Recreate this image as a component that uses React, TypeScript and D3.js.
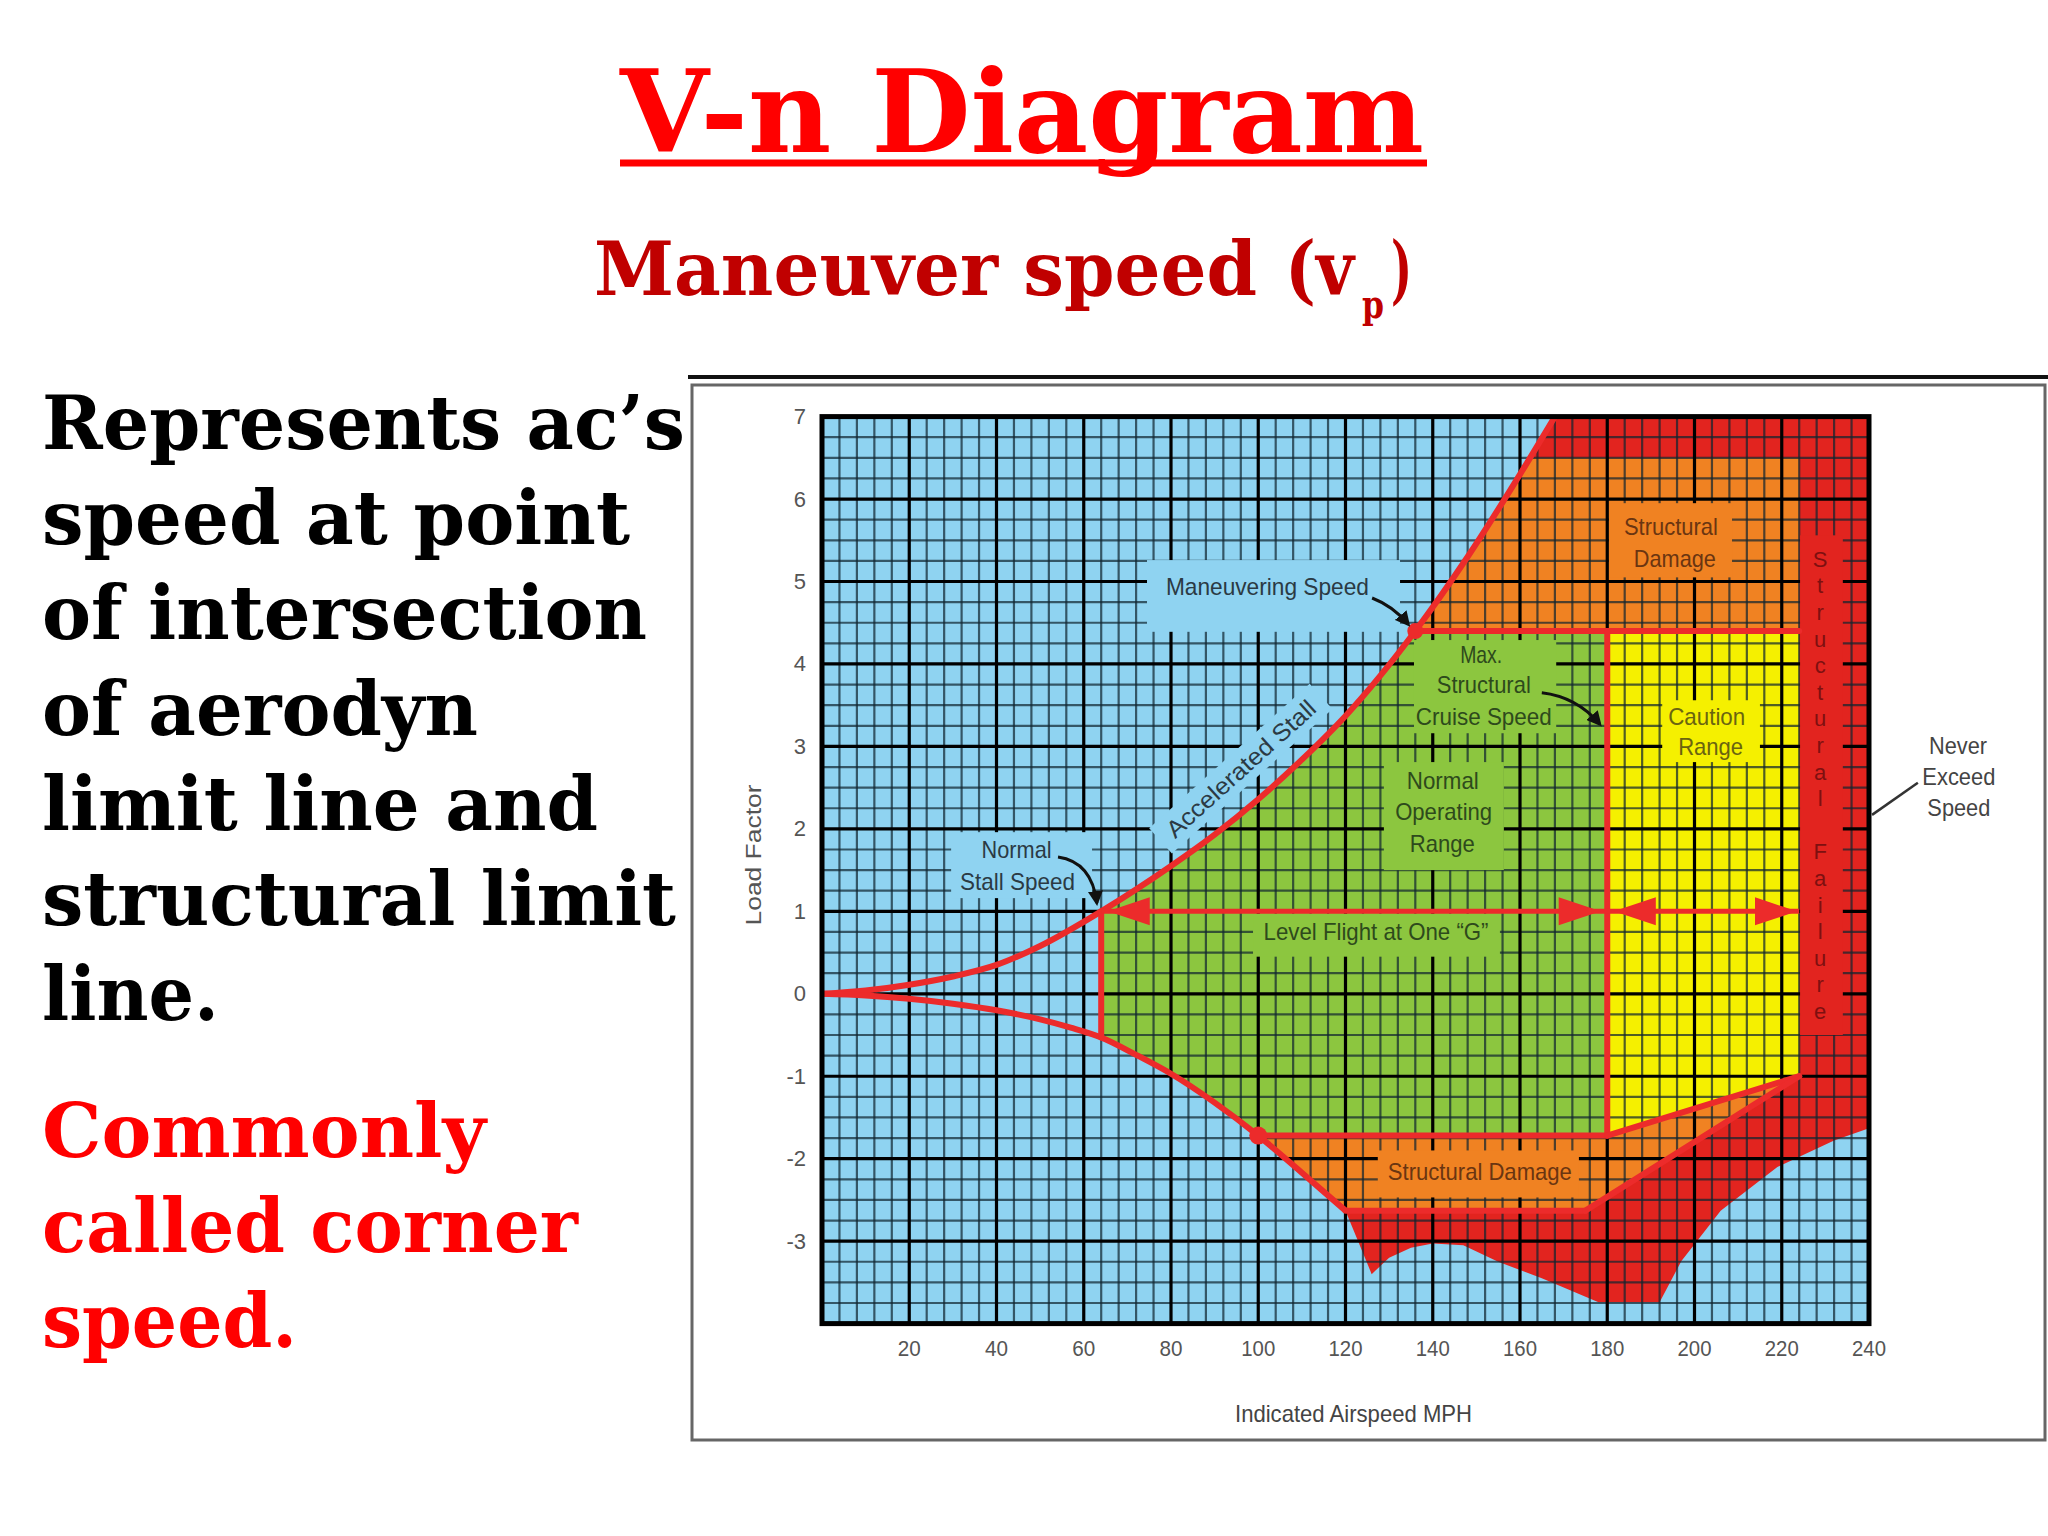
import React from "react";
import * as d3 from "d3";

type P = [number, number];

// ---- data (V in mph, n = load factor) ----
const xTicks = [20, 40, 60, 80, 100, 120, 140, 160, 180, 200, 220, 240];
const yTicks = [7, 6, 5, 4, 3, 2, 1, 0, -1, -2, -3];

const upperStall: P[] = [
  [0, 0], [10, 0.04], [20, 0.11], [30, 0.21], [40, 0.35], [50, 0.58], [64, 1.0],
  [80, 1.55], [90, 1.93], [100, 2.36], [110, 2.84], [120, 3.37], [136, 4.4],
  [148, 5.3], [160, 6.3], [168, 7.0],
];
const lowerStall: P[] = [
  [0, 0], [10, -0.02], [20, -0.06], [30, -0.12], [40, -0.2], [50, -0.31], [57, -0.41], [64, -0.53],
  [72, -0.74], [80, -0.97], [90, -1.32], [100, -1.72], [110, -2.17], [120, -2.63],
];
const failureBottom: P[] = [
  [240, -1.63], [232, -1.78], [219, -2.1], [206, -2.63], [197, -3.24], [192, -3.74],
  [178, -3.74], [165, -3.45], [155, -3.25], [147, -3.05], [140, -3.03], [135, -3.08],
  [130, -3.2], [126, -3.4], [120, -2.63],
];
const orangeUpper: P[] = [[136, 4.4], [148, 5.3], [160, 6.3], [162, 6.5], [224, 6.5], [224, 4.4]];
const orangeLower: P[] = [[100, -1.72], [180, -1.72], [224, -1.0], [175, -2.63], [120, -2.63], [110, -2.17]];
const yellowZone: P[] = [[180, 4.4], [224, 4.4], [224, -1.0], [180, -1.72]];
const greenCorners: P[] = [[180, 4.4], [180, -1.72]];

const stallSpeed = 64;
const maneuverPoint: P = [136, 4.4];
const negCorner: P = [100, -1.72];
const cruiseSpeed = 180;
const neverExceed = 224;
const posLimit = 4.4;
const negLimit = -1.72;

const levelArrows = [
  { tip: 65.5, dir: -1 },
  { tip: 178.5, dir: 1 },
  { tip: 181.5, dir: -1 },
  { tip: 223.5, dir: 1 },
];

const titleText = "V-n Diagram";
const subtitleText = "Maneuver speed";
const blackLines = ["Represents ac\u2019s", "speed at point", "of intersection", "of aerodyn", "limit line and", "structural limit", "line."];
const blackWidths = [643, 588, 605, 436, 556, 634, 177];
const redLines = ["Commonly", "called corner", "speed."];
const redWidths = [444, 536, 255];

const COL = {
  blue: "#8fd3f1",
  red: "#e2241f",
  orange: "#f08222",
  green: "#8cc63f",
  yellow: "#f5f000",
  line: "#ec2b2b",
};

const chartLabels = [
  { t: "Maneuvering Speed", v: 102.1, n: 4.84, w: 203, c: "#2b3a44" },
  { t: "Structural", v: 194.6, n: 5.56, w: 94, c: "#6a3511" },
  { t: "Damage", v: 195.5, n: 5.18, w: 82, c: "#6a3511" },
  { t: "Max.", v: 151.1, n: 4.01, w: 42, c: "#2e4a1c" },
  { t: "Structural", v: 151.7, n: 3.65, w: 94, c: "#2e4a1c" },
  { t: "Cruise Speed", v: 151.7, n: 3.26, w: 136, c: "#2e4a1c" },
  { t: "Caution", v: 202.8, n: 3.26, w: 77, c: "#6a6410" },
  { t: "Range", v: 203.7, n: 2.9, w: 65, c: "#6a6410" },
  { t: "Normal", v: 142.3, n: 2.48, w: 72, c: "#2e4a1c" },
  { t: "Operating", v: 142.5, n: 2.11, w: 97, c: "#2e4a1c" },
  { t: "Range", v: 142.2, n: 1.72, w: 65, c: "#2e4a1c" },
  { t: "Level Flight at One \u201cG\u201d", v: 127, n: 0.65, w: 225, c: "#2e4a1c" },
  { t: "Normal", v: 44.6, n: 1.65, w: 70, c: "#2b3a44" },
  { t: "Stall Speed", v: 44.8, n: 1.26, w: 115, c: "#2b3a44" },
  { t: "Structural Damage", v: 150.8, n: -2.26, w: 184, c: "#6a3511" },
  { t: "Never", v: 260.4, n: 2.91, w: 58, c: "#444" },
  { t: "Exceed", v: 260.6, n: 2.53, w: 73, c: "#444" },
  { t: "Speed", v: 260.6, n: 2.16, w: 63, c: "#444" },
];

// clear boxes behind the labels: [v0, n0, v1, n1, colour]
const labelBoxes: [number, number, number, number, string][] = [
  [74.5, 5.26, 132.5, 4.39, COL.blue],
  [180.4, 5.95, 208.6, 5.05, COL.orange],
  [135.7, 4.29, 168.3, 3.16, COL.green],
  [128.8, 2.81, 156.3, 1.5, COL.green],
  [98.8, 0.97, 155.4, 0.45, COL.green],
  [192.6, 3.56, 215.0, 2.81, COL.yellow],
  [29.6, 1.96, 61.9, 1.16, COL.blue],
  [127.4, -1.9, 173.5, -2.47, COL.orange],
  [224.2, 5.56, 234.0, -0.5, COL.red],
];

const failureWord = "Structural Failure";

const SANS = "'Liberation Sans', Arial, sans-serif";
const SERIF = "'DejaVu Serif', serif";

export default function App() {
  const x = d3.scaleLinear().domain([0, 240]).range([822, 1869]);
  const y = d3.scaleLinear().domain([-4, 7]).range([1323.6, 416.6]);

  const lin = d3.line<P>().x((d) => x(d[0])).y((d) => y(d[1]));
  const smooth = d3.line<P>().x((d) => x(d[0])).y((d) => y(d[1])).curve(d3.curveMonotoneX);
  const poly = (pts: P[]) => (lin(pts) as string) + "Z";

  const redPoly: P[] = [
    ...upperStall.filter((d) => d[0] >= 136),
    [240, 7],
    ...failureBottom,
    negCorner,
  ];
  const greenPoly: P[] = [
    ...upperStall.filter((d) => d[0] >= stallSpeed && d[0] <= 136),
    ...greenCorners,
    ...lowerStall.filter((d) => d[0] >= stallSpeed && d[0] <= 100).reverse(),
  ];

  const minorV = d3.range(0, 241, 4).filter((v) => v % 20 !== 0);
  const majorV = d3.range(0, 241, 20);
  const minorN = d3.range(-4, 7.01, 0.25).filter((n) => Math.abs(n - Math.round(n)) > 0.01);
  const majorN = d3.range(-4, 8, 1);

  const segs: [P, P][] = [
    [[stallSpeed, 1], [stallSpeed, -0.53]],
    [[136, posLimit], [neverExceed, posLimit]],
    [[cruiseSpeed, posLimit], [cruiseSpeed, negLimit]],
    [[100, negLimit], [cruiseSpeed, negLimit]],
    [[cruiseSpeed, negLimit], [neverExceed, -1.0]],
    [[120, -2.63], [175, -2.63]],
    [[175, -2.63], [neverExceed, -1.0]],
  ];

  const failX = x(228.8);
  const letterStep = y(0) - y(0.3226);

  return (
    <svg width={2048} height={1536} style={{ position: "absolute", left: 0, top: 0, background: "#fff" }}>
      <defs>
        <marker id="blk" viewBox="0 0 10 10" refX="8" refY="5" markerWidth="5" markerHeight="5" orient="auto">
          <path d="M0,0 L10,5 L0,10 Z" fill="#111" />
        </marker>
        <clipPath id="plotClip">
          <rect x={x(0)} y={y(7)} width={x(240) - x(0)} height={y(-4) - y(7)} />
        </clipPath>
      </defs>
      <rect x={0} y={0} width={2048} height={1536} fill="#fff" />

      {/* Title */}
      <text x={620} y={152} fontFamily={SERIF} fontWeight="bold" fontSize={114} fill="#ff0000"
        textLength={804} lengthAdjust="spacingAndGlyphs">{titleText}</text>
      <rect x={620} y={159.5} width={807} height={7} fill="#ff0000" />
      <text x={594} y={295} fontFamily={SERIF} fontWeight="bold" fontSize={75} fill="#c00000"
        textLength={663} lengthAdjust="spacingAndGlyphs">{subtitleText}</text>
      <text x={1285} y={295} fontFamily={SERIF} fontWeight="bold" fontSize={75} fill="#c00000"
        textLength={69} lengthAdjust="spacingAndGlyphs">(v</text>
      <text x={1362} y={318} fontFamily={SERIF} fontWeight="bold" fontSize={40} fill="#c00000"
        textLength={22} lengthAdjust="spacingAndGlyphs">p</text>
      <text x={1391} y={295} fontFamily={SERIF} fontWeight="bold" fontSize={75} fill="#c00000"
        textLength={21} lengthAdjust="spacingAndGlyphs">)</text>

      {/* Left text */}
      {blackLines.map((t, i) => (
        <text key={"b" + i} x={42} y={449 + i * 95.2} fontFamily={SERIF} fontWeight="bold" fontSize={74}
          fill="#000" textLength={blackWidths[i]} lengthAdjust="spacingAndGlyphs">{t}</text>
      ))}
      {redLines.map((t, i) => (
        <text key={"r" + i} x={42} y={1157 + i * 95} fontFamily={SERIF} fontWeight="bold" fontSize={74}
          fill="#ff0000" textLength={redWidths[i]} lengthAdjust="spacingAndGlyphs">{t}</text>
      ))}

      {/* Panel frame */}
      <line x1={688} x2={2048} y1={377} y2={377} stroke="#111" strokeWidth={4} />
      <rect x={692} y={385} width={1353} height={1055} fill="#fff" stroke="#666" strokeWidth={3} />

      {/* Regions */}
      <g clipPath="url(#plotClip)">
        <rect x={x(0)} y={y(7)} width={x(240) - x(0)} height={y(-4) - y(7)} fill={COL.blue} />
        <path d={poly(redPoly)} fill={COL.red} />
        <path d={poly(orangeUpper)} fill={COL.orange} />
        <path d={poly(yellowZone)} fill={COL.yellow} />
        <path d={poly(greenPoly)} fill={COL.green} />
        <path d={poly(orangeLower)} fill={COL.orange} />

        {/* Grid */}
        {minorV.map((v) => (
          <line key={"mv" + v} x1={x(v)} x2={x(v)} y1={y(7)} y2={y(-4)} stroke="#102530" strokeOpacity={0.72} strokeWidth={2.2} />
        ))}
        {minorN.map((n) => (
          <line key={"mn" + n} x1={x(0)} x2={x(240)} y1={y(n)} y2={y(n)} stroke="#102530" strokeOpacity={0.72} strokeWidth={2.2} />
        ))}
        {majorV.map((v) => (
          <line key={"Mv" + v} x1={x(v)} x2={x(v)} y1={y(7)} y2={y(-4)} stroke="#000" strokeWidth={3.2} />
        ))}
        {majorN.map((n) => (
          <line key={"Mn" + n} x1={x(0)} x2={x(240)} y1={y(n)} y2={y(n)} stroke="#000" strokeWidth={3.2} />
        ))}

        {/* label clearings */}
        {labelBoxes.map((b, i) => (
          <rect key={"kb" + i} x={x(b[0])} y={y(b[1])} width={x(b[2]) - x(b[0])} height={y(b[3]) - y(b[1])} fill={b[4]} />
        ))}
        <g transform={`translate(${x(96)},${y(2.73)}) rotate(-42)`}>
          <rect x={-108} y={-17} width={216} height={34} fill={COL.blue} />
        </g>

        {/* Boundary lines */}
        <path d={smooth(upperStall) as string} fill="none" stroke={COL.line} strokeWidth={6} />
        <path d={smooth(lowerStall) as string} fill="none" stroke={COL.line} strokeWidth={6} />
        {segs.map((s, i) => (
          <line key={"s" + i} x1={x(s[0][0])} y1={y(s[0][1])} x2={x(s[1][0])} y2={y(s[1][1])} stroke={COL.line} strokeWidth={6} strokeLinecap="round" />
        ))}
        <line x1={x(stallSpeed)} x2={x(neverExceed)} y1={y(1)} y2={y(1)} stroke={COL.line} strokeWidth={5} />
        {levelArrows.map((a, i) => {
          const tx = x(a.tip);
          const ty = y(1);
          const bx = tx - a.dir * 42;
          return <path key={"la" + i} d={`M${tx},${ty} L${bx},${ty - 14} L${bx},${ty + 14} Z`} fill={COL.line} />;
        })}
        <circle cx={x(maneuverPoint[0])} cy={y(maneuverPoint[1])} r={8} fill={COL.line} />
        <circle cx={x(negCorner[0])} cy={y(negCorner[1])} r={9} fill={COL.line} />
      </g>

      {/* plot frame */}
      <rect x={x(0)} y={y(7)} width={x(240) - x(0)} height={y(-4) - y(7)} fill="none" stroke="#000" strokeWidth={5} />

      {/* Labels */}
      {chartLabels.map((l, i) => (
        <text key={"l" + i} x={x(l.v)} y={y(l.n)} textAnchor="middle" fontFamily={SANS} fontSize={24}
          fill={l.c} textLength={l.w} lengthAdjust="spacingAndGlyphs">{l.t}</text>
      ))}
      <text transform={`translate(${x(96)},${y(2.73)}) rotate(-42)`} textAnchor="middle" dominantBaseline="central"
        fontFamily={SANS} fontSize={24} fill="#2b3a44" textLength={192} lengthAdjust="spacingAndGlyphs">Accelerated Stall</text>
      {failureWord.split("").map((ch, i) =>
        ch === " " ? null : (
          <text key={"f" + i} x={failX} y={y(5.27) + i * letterStep} textAnchor="middle" dominantBaseline="central"
            fontFamily={SANS} fontSize={22} fill="#7e1010">{ch}</text>
        )
      )}

      {/* pointer arrows */}
      <path d={`M${x(126.1)},${y(4.8)} Q${x(131)},${y(4.7)} ${x(134.4)},${y(4.48)}`} fill="none" stroke="#111" strokeWidth={3} markerEnd="url(#blk)" />
      <path d={`M${x(165)},${y(3.65)} Q${x(173)},${y(3.6)} ${x(178.3)},${y(3.27)}`} fill="none" stroke="#111" strokeWidth={3} markerEnd="url(#blk)" />
      <path d={`M${x(54.1)},${y(1.66)} Q${x(61.9)},${y(1.6)} ${x(63)},${y(1.1)}`} fill="none" stroke="#111" strokeWidth={3} markerEnd="url(#blk)" />
      <line x1={x(251.2)} y1={y(2.56)} x2={x(240.7)} y2={y(2.17)} stroke="#333" strokeWidth={2.5} />

      {/* Axes text */}
      {yTicks.map((t) => (
        <text key={"yt" + t} x={806} y={y(t)} textAnchor="end" dominantBaseline="central" fontFamily={SANS} fontSize={22} fill="#555">{t}</text>
      ))}
      {xTicks.map((t) => (
        <text key={"xt" + t} x={x(t)} y={1356} textAnchor="middle" fontFamily={SANS} fontSize={22} fill="#555"
          textLength={t >= 100 ? 34 : 23} lengthAdjust="spacingAndGlyphs">{t}</text>
      ))}
      <text transform="translate(761,855) rotate(-90)" textAnchor="middle" fontFamily={SANS} fontSize={22} fill="#555"
        textLength={141} lengthAdjust="spacingAndGlyphs">Load Factor</text>
      <text x={1353.5} y={1422} textAnchor="middle" fontFamily={SANS} fontSize={24} fill="#444"
        textLength={237} lengthAdjust="spacingAndGlyphs">Indicated Airspeed MPH</text>
    </svg>
  );
}
